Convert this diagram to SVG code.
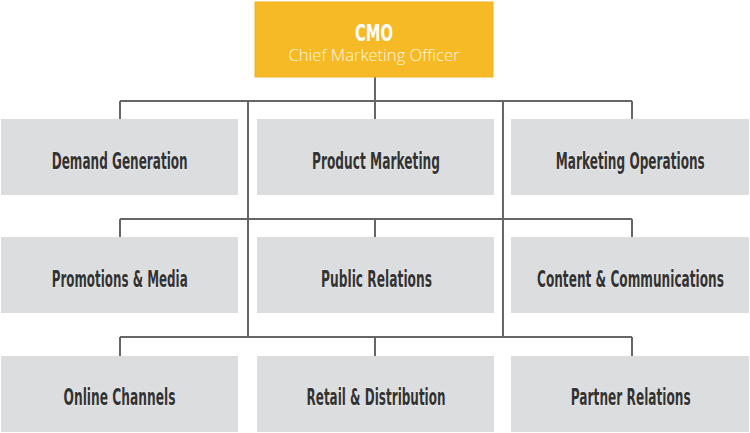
<svg xmlns="http://www.w3.org/2000/svg" width="750" height="433" viewBox="0 0 750 433">
<style>
.box{fill:#dcdddf;}
.lbl{font-family:"DejaVu Sans","Liberation Sans",sans-serif;font-weight:bold;font-size:23px;fill:#333333;text-anchor:middle;stroke:#f2f2f2;stroke-width:1.2;paint-order:stroke;}
.ln{stroke:#666666;stroke-width:2;fill:none;}
</style>
<rect width="750" height="433" fill="#ffffff"/>
<g id="connectors">
<path class="ln" d="M375 77V119M120 101H632M120 101V119M632 101V119M248 101V337M503 101V337M120 219H632M120 219V237M375 219V237M632 219V237M120 337H632M120 337V356M375 337V356M632 337V356"/>
</g>
<g id="cmo">
<rect x="255" y="2" width="238" height="75" fill="#f7ba27" stroke="#f0b21e" stroke-width="1"/>
<text transform="scale(0.6,1)" x="623.3" y="41.5" font-family="DejaVu Sans,sans-serif" font-weight="bold" font-size="23" fill="#ffffff" text-anchor="middle" textLength="63.3" lengthAdjust="spacingAndGlyphs">CMO</text>
<text x="374" y="61" font-family="Open Sans,Roboto,sans-serif" font-weight="300" font-size="16.5" fill="#fff6dc" text-anchor="middle" textLength="171" lengthAdjust="spacingAndGlyphs">Chief Marketing Officer</text>
</g>
<g id="demand-generation"><rect class="box" x="1" y="119" width="237" height="76"/><text class="lbl" transform="scale(0.6,1)" x="199.5" y="169" textLength="226.7" lengthAdjust="spacingAndGlyphs">Demand Generation</text></g>
<g id="product-marketing"><rect class="box" x="257" y="119" width="237" height="76"/><text class="lbl" transform="scale(0.6,1)" x="626.7" y="169" textLength="213.3" lengthAdjust="spacingAndGlyphs">Product Marketing</text></g>
<g id="marketing-operations"><rect class="box" x="511" y="119" width="238" height="76"/><text class="lbl" transform="scale(0.6,1)" x="1050.5" y="169" textLength="248.3" lengthAdjust="spacingAndGlyphs">Marketing Operations</text></g>
<g id="promotions-media"><rect class="box" x="1" y="237" width="237" height="76"/><text class="lbl" transform="scale(0.6,1)" x="199.5" y="287" textLength="226.7" lengthAdjust="spacingAndGlyphs">Promotions &amp; Media</text></g>
<g id="public-relations"><rect class="box" x="257" y="237" width="237" height="76"/><text class="lbl" transform="scale(0.6,1)" x="627.5" y="287" textLength="185" lengthAdjust="spacingAndGlyphs">Public Relations</text></g>
<g id="content-communications"><rect class="box" x="511" y="237" width="238" height="76"/><text class="lbl" transform="scale(0.6,1)" x="1050.8" y="287" textLength="311.7" lengthAdjust="spacingAndGlyphs">Content &amp; Communications</text></g>
<g id="online-channels"><rect class="box" x="1" y="356" width="237" height="76"/><text class="lbl" transform="scale(0.6,1)" x="199.2" y="405" textLength="186.7" lengthAdjust="spacingAndGlyphs">Online Channels</text></g>
<g id="retail-distribution"><rect class="box" x="257" y="356" width="237" height="76"/><text class="lbl" transform="scale(0.6,1)" x="626.7" y="405" textLength="231.7" lengthAdjust="spacingAndGlyphs">Retail &amp; Distribution</text></g>
<g id="partner-relations"><rect class="box" x="511" y="356" width="238" height="76"/><text class="lbl" transform="scale(0.6,1)" x="1051.3" y="405" textLength="200" lengthAdjust="spacingAndGlyphs">Partner Relations</text></g>
</svg>
